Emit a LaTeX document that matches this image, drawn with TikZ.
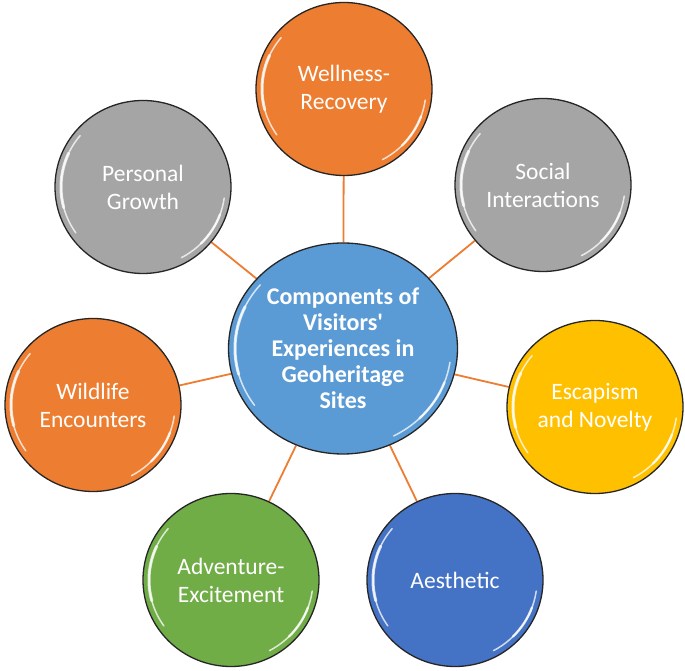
\documentclass[tikz,border=0pt]{standalone}
\usepackage{fontspec}
\setmainfont{Carlito}[Ligatures=TeXOff]
\usetikzlibrary{shapes.geometric,backgrounds}
\definecolor{cOrange}{HTML}{ED7D31}
\definecolor{cGray}{HTML}{A5A5A5}
\definecolor{cYellow}{HTML}{FFC000}
\definecolor{cBlue}{HTML}{4472C4}
\definecolor{cGreen}{HTML}{70AD47}
\definecolor{cHub}{HTML}{5B9BD5}
\tikzset{
  ball/.style={ellipse, draw=black!85, line width=1.3pt, inner sep=0pt,
    minimum width=176pt, minimum height=173pt, text=white, align=center,
    font=\fontsize{23.5}{28}\selectfont},
  hub/.style={ball, minimum width=229pt, minimum height=211pt,
    font=\bfseries\fontsize{24}{26}\selectfont},
  conn/.style={draw=cOrange, line width=1.8pt},
  gloss/.style={white, line width=1.5pt, opacity=0.75, line cap=round},
}
\newcommand{\glossball}[3]{%
  \begin{scope}[shift={(#1.center)}]
    \draw[gloss] (140:#2 and #3) arc[start angle=140,end angle=215,x radius=#2,y radius=#3];
    \draw[gloss, line width=3pt] (155:#2 and #3) arc[start angle=155,end angle=195,x radius=#2,y radius=#3];
    \draw[gloss] (-8:#2 and #3) arc[start angle=-8,end angle=-62,x radius=#2,y radius=#3];
    \draw[gloss, line width=2.4pt] (-20:#2 and #3) arc[start angle=-20,end angle=-45,x radius=#2,y radius=#3];
  \end{scope}}
\begin{document}
\begin{tikzpicture}[x=1pt,y=1pt]
\useasboundingbox (0,0) rectangle (685,671);
\node[hub, fill=cHub] (hub) at (343,322.5) {Components of\\Visitors'\\Experiences in\\Geoheritage\\Sites};
\node[ball, fill=cOrange] (well) at (344,582) {Wellness-\\Recovery};
\node[ball, fill=cGray] (soc) at (543,486) {Social\\Interactions};
\node[ball, fill=cYellow] (esc) at (595,264) {Escapism\\and Novelty};
\node[ball, fill=cBlue] (aes) at (455,91) {Aesthetic};
\node[ball, fill=cGreen] (adv) at (231,91) {Adventure-\\Excitement};
\node[ball, fill=cOrange] (wild) at (93,266) {Wildlife\\Encounters};
\node[ball, fill=cGray] (pers) at (143,484) {Personal\\Growth};
\glossball{hub}{108}{99}
\glossball{well}{82}{80}
\glossball{soc}{82}{80}
\glossball{esc}{82}{80}
\glossball{aes}{82}{80}
\glossball{adv}{82}{80}
\glossball{wild}{82}{80}
\glossball{pers}{82}{80}
\begin{pgfonlayer}{background}
  \fill[white] (0,0) rectangle (685,671);
  \draw[conn] (hub) -- (well);
  \draw[conn] (hub) -- (soc);
  \draw[conn] (hub) -- (esc);
  \draw[conn] (hub) -- (aes);
  \draw[conn] (hub) -- (adv);
  \draw[conn] (hub) -- (wild);
  \draw[conn] (hub) -- (pers);
\end{pgfonlayer}
\end{tikzpicture}
\end{document}
